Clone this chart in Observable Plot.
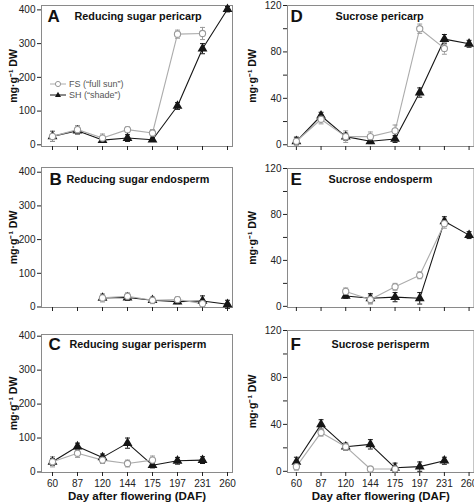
<!DOCTYPE html>
<html><head><meta charset="utf-8">
<script src="https://cdn.jsdelivr.net/npm/d3@7"></script>
<script src="https://cdn.jsdelivr.net/npm/@observablehq/plot@0.6"></script>
<style>
body{margin:0;background:#fff;overflow:hidden;font-family:"Liberation Sans",Arial,sans-serif}
#wrap{position:relative;width:474px;height:502px;overflow:hidden;background:#fff}
.p{position:absolute}
g[aria-label="y-axis label"] text{font-weight:bold;font-size:10.5px;fill:#111}
g[aria-label="x-axis label"] text{font-weight:bold;font-size:11.5px;fill:#111}
#legend{position:absolute;left:49px;top:78px}
</style></head><body><div id="wrap"></div>
<script>
// x categories: day after flowering
const days = ["60","87","120","144","175","197","231","260"];

// A: Reducing sugar pericarp (mg.g-1 DW); null = not measured
const fsRedPericarp   = [25, 45, 20, 45, 35, 328, 330, null];
const fsRedPericarpSE = [15, 12, 12, 8, 10, 12, 18, null];
const shRedPericarp   = [25, 42, 14, 20, 15, 115, 285, 402];
const shRedPericarpSE = [15, 10, 5, 10, 5, 10, 15, 8];

// B: Reducing sugar endosperm
const fsRedEndosperm   = [null, null, 27, 32, 20, 22, 10, null];
const fsRedEndospermSE = [null, null, 12, 10, 10, 8, 8, null];
const shRedEndosperm   = [null, null, 27, 28, 20, 16, 18, 8];
const shRedEndospermSE = [null, null, 8, 8, 6, 6, 15, 12];

// C: Reducing sugar perisperm
const fsRedPerisperm   = [30, 55, 35, 25, 35, null, null, null];
const fsRedPerispermSE = [15, 12, 10, 10, 12, null, null, null];
const shRedPerisperm   = [30, 75, 43, 85, 20, 33, 35, null];
const shRedPerispermSE = [10, 10, 10, 15, 8, 10, 10, null];

// D: Sucrose pericarp
const fsSucPericarp   = [3, 22, 7, 7, 12, 100, 83, null];
const fsSucPericarpSE = [4, 4, 5, 4, 5, 4, 5, null];
const shSucPericarp   = [3, 25, 7, 3, 5, 45, 91, 87];
const shSucPericarpSE = [3, 3, 3, 2, 3, 4, 4, 3];

// E: Sucrose endosperm
const fsSucEndosperm   = [null, null, 13, 6, 17, 27, 72, null];
const fsSucEndospermSE = [null, null, 3, 4, 3, 3, 4, null];
const shSucEndosperm   = [null, null, 9, 7, 8, 7, 74, 62];
const shSucEndospermSE = [null, null, 2, 4, 4, 5, 4, 3];

// F: Sucrose perisperm
const fsSucPerisperm   = [4, 33, 21, 2, 2, null, null, null];
const fsSucPerispermSE = [3, 3, 3, 2, 2, null, null, null];
const shSucPerisperm   = [8, 40, 21, 23, 3, 4, 9, null];
const shSucPerispermSE = [4, 4, 3, 4, 4, 4, 3, null];

const leftTicks = [0, 100, 200, 300, 400];
const rightTicks = [0, 40, 80, 120];
const rightMinor = [20, 60, 100];
const yTitle = "mg·g⁻¹ DW";
const xTitle = "Day after flowering (DAF)";
const seriesNames = ["FS (“full sun”)", "SH (“shade”)"];

const FS_LINE = "#acacac", FS_DOT = "#9a9a9a", SH = "#161616";

const wrap = document.getElementById("wrap");

function rows(vals, errs) {
  return days.map((d, i) => ({i, day: d, v: vals[i], e: errs[i]})).filter(d => d.v != null);
}

function panel(c) {
  const fs = rows(c.fs, c.fsE), sh = rows(c.sh, c.shE);
  const right = c.col === 1;
  const marks = [
    Plot.frame({stroke: "#8a8a8a"}),
    Plot.axisY({ticks: right ? rightTicks : leftTicks, tickSize: 4, tickPadding: 2,
      label: yTitle, labelAnchor: "center", labelArrow: "none", labelOffset: right ? 39 : 32}),
    Plot.axisX({ticks: d3.range(days.length), tickSize: 4, tickPadding: 3,
      tickFormat: c.bottom ? (i => days[i]) : (() => ""),
      label: c.bottom ? xTitle : null, labelAnchor: "center", labelArrow: "none", labelOffset: 27})
  ];
  if (right) marks.push(Plot.axisY({ticks: rightMinor, tickSize: 4, tickFormat: () => "", label: null}));
  const bars = (data, color) => [
    Plot.ruleX(data, {x: "i", y1: d => d.v - d.e, y2: d => d.v + d.e, stroke: color, strokeWidth: 1}),
    Plot.link(data, {x1: d => d.i - 0.1, x2: d => d.i + 0.1, y1: d => d.v + d.e, y2: d => d.v + d.e, stroke: color}),
    Plot.link(data, {x1: d => d.i - 0.1, x2: d => d.i + 0.1, y1: d => d.v - d.e, y2: d => d.v - d.e, stroke: color})
  ];
  marks.push(
    Plot.line(sh, {x: "i", y: "v", stroke: SH, strokeWidth: 1.1}),
    Plot.line(fs, {x: "i", y: "v", stroke: FS_LINE, strokeWidth: 1.1}),
    ...bars(sh, SH),
    ...bars(fs, FS_DOT),
    Plot.dot(sh, {x: "i", y: "v", symbol: "triangle", r: 2.7, fill: SH, stroke: SH}),
    Plot.dot(fs, {x: "i", y: "v", symbol: "circle", r: 3.1, fill: "white", stroke: FS_DOT, strokeWidth: 1.1}),
    Plot.text([c.letter], {frameAnchor: "top-left", dx: c.ldx, dy: c.tdy, lineAnchor: "middle", fontSize: 17, fontWeight: "bold", fill: "#111"}),
    Plot.text([c.title], {frameAnchor: "top-left", dx: c.tdx, dy: c.tdy, lineAnchor: "middle", fontSize: 10.8, fontWeight: "bold", fill: "#111"})
  );
  const left = right ? 237 : 0;
  const mL = right ? 50 : 41, mR = right ? 0.5 : 5;
  const mT = 5;
  const mB = c.bottom ? 502 - c.bot : 10;
  const top = c.top - mT;
  const svg = Plot.plot({
    width: 237, height: (c.bot - c.top) + mT + mB,
    marginLeft: mL, marginRight: mR, marginTop: mT, marginBottom: mB,
    x: {type: "linear", domain: right ? [-0.36, 7.2] : [-0.44, 7.2]},
    y: {domain: c.yDomain},
    style: {fontFamily: "'Liberation Sans', Arial, sans-serif", fontSize: "10px", color: "#222", background: "transparent", overflow: "visible"},
    marks
  });
  svg.classList.add("p");
  svg.style.left = left + "px";
  svg.style.top = top + "px";
  wrap.appendChild(svg);
}

panel({col: 0, letter: "A", title: "Reducing sugar pericarp", fs: fsRedPericarp, fsE: fsRedPericarpSE, sh: shRedPericarp, shE: shRedPericarpSE,
  top: 5, bot: 146, yDomain: [-5, 413], ldx: 6, tdx: 33, tdy: 11});
panel({col: 0, letter: "B", title: "Reducing sugar endosperm", fs: fsRedEndosperm, fsE: fsRedEndospermSE, sh: shRedEndosperm, shE: shRedEndospermSE,
  top: 167, bot: 307, yDomain: [-1.5, 414], ldx: 8, tdx: 25, tdy: 12});
panel({col: 0, letter: "C", title: "Reducing sugar perisperm", fs: fsRedPerisperm, fsE: fsRedPerispermSE, sh: shRedPerisperm, shE: shRedPerispermSE,
  top: 334, bot: 472, yDomain: [-1.5, 405], ldx: 7, tdx: 28, tdy: 10, bottom: true});
panel({col: 1, letter: "D", title: "Sucrose pericarp", fs: fsSucPericarp, fsE: fsSucPericarpSE, sh: shSucPericarp, shE: shSucPericarpSE,
  top: 5, bot: 146, yDomain: [-1.5, 120], ldx: 3, tdx: 48, tdy: 11});
panel({col: 1, letter: "E", title: "Sucrose endosperm", fs: fsSucEndosperm, fsE: fsSucEndospermSE, sh: shSucEndosperm, shE: shSucEndospermSE,
  top: 168, bot: 307, yDomain: [-1, 120], ldx: 3, tdx: 41, tdy: 11});
panel({col: 1, letter: "F", title: "Sucrose perisperm", fs: fsSucPerisperm, fsE: fsSucPerispermSE, sh: shSucPerisperm, shE: shSucPerispermSE,
  top: 330, bot: 472, yDomain: [-1, 120], ldx: 3, tdx: 44, tdy: 14, bottom: true});

// legend (panel A)
const ns = "http://www.w3.org/2000/svg";
const lg = document.createElementNS(ns, "svg");
lg.setAttribute("id", "legend"); lg.setAttribute("width", 80); lg.setAttribute("height", 24);
seriesNames.forEach((name, k) => {
  const y = 6 + k * 11;
  const ln = document.createElementNS(ns, "line");
  ln.setAttribute("x1", 1); ln.setAttribute("x2", 17); ln.setAttribute("y1", y); ln.setAttribute("y2", y);
  ln.setAttribute("stroke", k ? SH : FS_LINE); lg.appendChild(ln);
  if (k === 0) {
    const c = document.createElementNS(ns, "circle");
    c.setAttribute("cx", 9); c.setAttribute("cy", y); c.setAttribute("r", 2.6);
    c.setAttribute("fill", "white"); c.setAttribute("stroke", FS_DOT); lg.appendChild(c);
  } else {
    const p = document.createElementNS(ns, "path");
    p.setAttribute("d", `M9,${y - 3.2}L12,${y + 2}L6,${y + 2}Z`); p.setAttribute("fill", SH); lg.appendChild(p);
  }
  const t = document.createElementNS(ns, "text");
  t.setAttribute("x", 20); t.setAttribute("y", y + 3.2); t.setAttribute("font-size", 9);
  t.setAttribute("fill", "#555"); t.setAttribute("font-family", "'Liberation Sans', Arial, sans-serif");
  t.textContent = name; lg.appendChild(t);
});
wrap.appendChild(lg);
</script>
</body></html>
